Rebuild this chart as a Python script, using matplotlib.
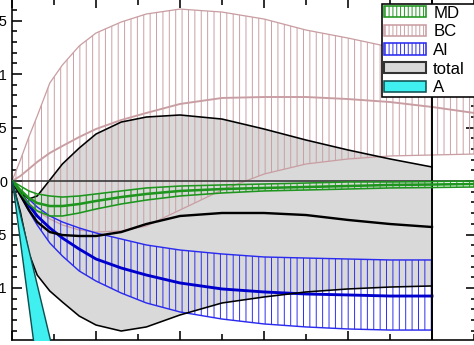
import matplotlib
matplotlib.use("Agg")
import matplotlib.pyplot as plt
import matplotlib.patches as mpatches
from matplotlib.ticker import MultipleLocator, FixedLocator

# data (x in model units, y in response units)
x = [0, 0.1, 0.2, 0.3, 0.45, 0.6, 0.8, 1.0, 1.3, 1.6, 2.0, 2.5, 3.0, 3.5, 4.0, 4.5, 5.0]
x_long = x + [5.5]

bc_upper = [0, .0196, .0411, .0607, .0916, .1084, .1262, .1383, .1486, .1561, .1607, .1579,
            .1514, .1411, .1336, .1252, .1159, .1075]
bc_mid = [0, .0047, .0112, .0178, .0262, .0327, .0411, .0486, .0570, .0636, .0720, .0776,
          .0785, .0785, .0766, .0738, .0692, .0636]
bc_lower = [0, -.0103, -.0206, -.0280, -.0355, -.0411, -.0458, -.0477, -.0467, -.0421, -.0271,
            -.0084, .0065, .0159, .0206, .0234, .0243, .0252]

md_upper = [0, -.0047, -.0093, -.0121, -.0140, -.0150, -.0140, -.0121, -.0093, -.0065, -.0047,
            -.0037, -.0028, -.0019, -.0009, -.0009, -.0005, 0]
md_mid = [0, -.0084, -.0159, -.0206, -.0234, -.0234, -.0215, -.0187, -.0150, -.0121, -.0093,
          -.0075, -.0065, -.0056, -.0047, -.0037, -.0033, -.0028]
md_lower = [0, -.0112, -.0215, -.0280, -.0327, -.0327, -.0299, -.0262, -.0215, -.0178, -.0140,
            -.0112, -.0093, -.0084, -.0075, -.0065, -.0061, -.0056]

total_upper = [0, -.0103, -.0168, -.0140, .0009, .0159, .0308, .0439, .0551, .0598, .0617,
               .0579, .0486, .0383, .0290, .0206, .0131]
total_mid = [0, -.0131, -.0271, -.0383, -.0477, -.0505, -.0514, -.0514, -.0477, -.0402, -.0327,
             -.0299, -.0299, -.0318, -.0364, -.0402, -.0430]
total_lower = [0, -.0290, -.0673, -.0879, -.1028, -.1131, -.1262, -.1346, -.1402, -.1364, -.1252,
               -.1140, -.1084, -.1037, -.1009, -.0991, -.0981]

ai_upper = [0, -.0084, -.0168, -.0243, -.0327, -.0383, -.0439, -.0486, -.0542, -.0598, -.0645,
            -.0682, -.0710, -.0720, -.0729, -.0738, -.0738]
ai_mid = [0, -.0112, -.0224, -.0327, -.0439, -.0533, -.0636, -.0729, -.0813, -.0879, -.0953,
          -.1009, -.1037, -.1056, -.1065, -.1075, -.1075]
ai_lower = [0, -.0140, -.0280, -.0411, -.0579, -.0701, -.0841, -.0935, -.1047, -.1140, -.1224,
            -.1290, -.1336, -.1364, -.1383, -.1393, -.1393]

a_x = [0, 0.5]
a_upper = [0, -0.164]
a_lower = [0, -0.297]

y_ticks = [-0.1, -0.05, 0, 0.05, 0.1, 0.15]
y_labels = ["-0.1", "-0.05", "0", "0.05", "0.1", "0.15"]

pink = "#c99ea3"
blue = "#2b2bf0"
green = "#1e961e"

plt.rcParams["font.family"] = ["Liberation Sans", "DejaVu Sans"]
plt.rcParams["hatch.linewidth"] = 0.6

dpi = 115
fig = plt.figure(figsize=(474 / dpi, 345 / dpi), dpi=dpi)
ax = fig.add_axes([12 / 474, 5 / 345, 464 / 474, 341 / 345])

ax.fill_between(x, total_lower, total_upper, facecolor="#d9d9d9", edgecolor="none", zorder=1)
ax.fill_between(x_long, bc_lower, bc_upper, facecolor="none", edgecolor=pink, hatch="|||",
                linewidth=0.8, zorder=2)
ax.plot(x_long, bc_mid, color=pink, lw=1.2, zorder=2)
ax.fill_between(x, ai_lower, ai_upper, facecolor="none", edgecolor=blue, hatch="|||",
                linewidth=0.9, zorder=2)
ax.plot(x, ai_mid, color="#0000cc", lw=1.8, zorder=3)

ax.plot(x, total_upper, color="black", lw=1.0, zorder=3)
ax.plot(x, total_lower, color="black", lw=1.0, zorder=3)
ax.plot(x, total_mid, color="black", lw=1.5, zorder=3)

ax.axhline(0, color="#333333", lw=1.0, zorder=3.5)
ax.axvline(5.0, color="black", lw=1.2, zorder=3.5)

ax.fill_between(x_long, md_lower, md_upper, facecolor="none", edgecolor=green, hatch="|||",
                linewidth=1.0, zorder=4)
ax.plot(x_long, md_mid, color=green, lw=1.6, zorder=4)

ax.fill_between(a_x, a_lower, a_upper, facecolor="#40f0f0", edgecolor="#105050",
                linewidth=0.9, zorder=5)

ax.set_xlim(0, 464 / 84)
ax.set_ylim(-0.1486, 0.1701)
ax.xaxis.set_major_locator(MultipleLocator(1))
ax.xaxis.set_minor_locator(MultipleLocator(0.5))
ax.yaxis.set_major_locator(FixedLocator(y_ticks))
ax.set_yticklabels(y_labels)
ax.yaxis.set_minor_locator(MultipleLocator(0.01))
ax.tick_params(which="both", direction="in", top=True, right=True, width=1,
               labelbottom=False, labelsize=9)
ax.tick_params(axis="y", which="major", length=6.2, pad=3)
ax.tick_params(axis="y", which="minor", length=3.3)
ax.tick_params(axis="x", which="major", length=5.5)
ax.tick_params(axis="x", which="minor", length=4)
for s in ax.spines.values():
    s.set_linewidth(1)

handles = [
    mpatches.Patch(facecolor="white", edgecolor=green, hatch="|||||", lw=1),
    mpatches.Patch(facecolor="white", edgecolor=pink, hatch="|||||", lw=1),
    mpatches.Patch(facecolor="white", edgecolor=blue, hatch="|||||", lw=1),
    mpatches.Patch(facecolor="#d9d9d9", edgecolor="#333333", lw=1.3),
    mpatches.Patch(facecolor="#40f0f0", edgecolor="#105050", lw=1),
]
labels = ["MD", "BC", "AI", "total", "A"]
# legend box runs past the right edge of the picture, as in the reference
leg = fig.legend(handles, labels, loc="lower left", mode="expand",
                 bbox_to_anchor=(382 / 474, (345 - 97) / 345, 110 / 474, 0.2),
                 fontsize=10.5, frameon=True, fancybox=False, framealpha=1,
                 edgecolor="black", borderpad=0.1, labelspacing=0.22,
                 handlelength=2.5, handleheight=0.66, handletextpad=0.45,
                 borderaxespad=0)
leg.get_frame().set_linewidth(1)

fig.savefig("out.png", dpi=dpi)
